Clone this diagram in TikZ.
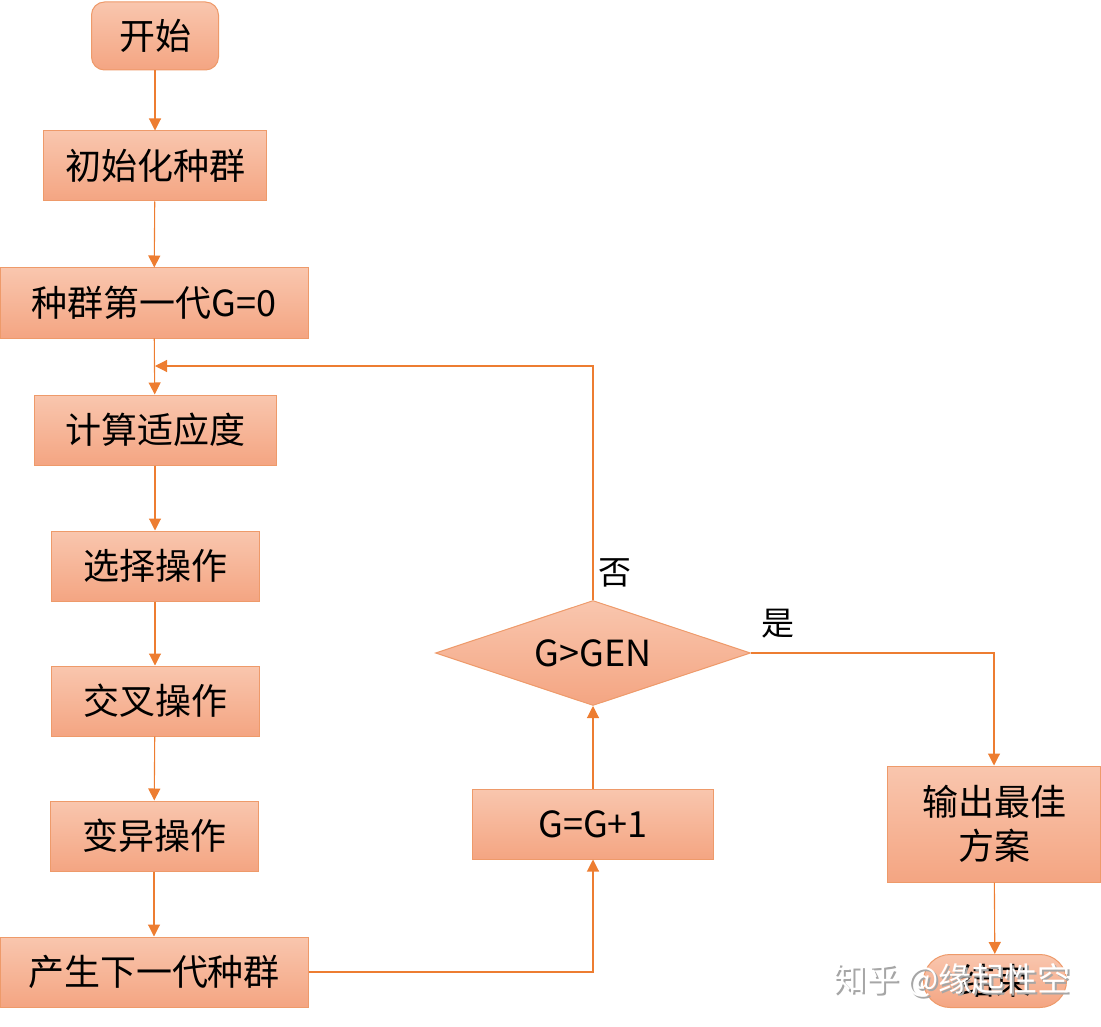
\documentclass[tikz,border=0pt]{standalone}
\usepackage{fontspec}
\setmainfont{Noto Sans CJK SC}
\usetikzlibrary{arrows.meta, positioning, shapes.geometric, shapes.misc}
\definecolor{boxtop}{HTML}{F9C6AE}
\definecolor{boxbot}{HTML}{F4A582}
\definecolor{boxline}{HTML}{EE9A6A}
\definecolor{arrowc}{HTML}{ED7D31}
\tikzset{
  stepbox/.style={draw=boxline, line width=1pt, top color=boxtop, bottom color=boxbot,
    minimum height=70pt, inner sep=0pt, font=\fontsize{36}{44}\selectfont, align=center},
  flow/.style={-{Triangle[length=12pt, width=12pt]}, draw=arrowc, line width=1.1pt},
  lbl/.style={font=\fontsize{33}{38}\selectfont}
}
\begin{document}
\begin{tikzpicture}[x=1pt, y=-1pt]
    \useasboundingbox (0,0) rectangle (1101,1027);
    % main column
    \node[stepbox, rounded corners=13pt, minimum width=127pt, minimum height=68pt] (start) at (155,36) {开始};
    \node[stepbox, minimum width=223pt] (init) at (155,166) {初始化种群};
    \node[stepbox, minimum width=308pt] (first) at (154,303) {种群第一代G=0};
    \node[stepbox, minimum width=242pt] (fit) at (155,430) {计算适应度};
    \node[stepbox, minimum width=208pt] (sel) at (155,566) {选择操作};
    \node[stepbox, minimum width=208pt] (cross) at (155,701) {交叉操作};
    \node[stepbox, minimum width=208pt] (mut) at (154,836) {变异操作};
    \node[stepbox, minimum width=308pt] (next) at (154,972) {产生下一代种群};
    % loop and exit
    \node[stepbox, minimum width=241pt] (inc) at (593,824) {G=G+1};
    \node[stepbox, diamond, aspect=3, minimum width=315pt, minimum height=105pt] (cond) at (593,653) {G>GEN};
    \node[stepbox, minimum width=213pt, minimum height=116pt] (out) at (994,824) {输出最佳\\方案};
    \node[stepbox, rounded rectangle, minimum width=143pt, minimum height=53pt] (stop) at (995,981) {结束};
    \coordinate (join) at (155,366);
    \draw[flow] (start) -- (init);
    \draw[flow] (init) -- (first);
    \draw[flow] (first) -- (fit);
    \draw[flow] (fit) -- (sel);
    \draw[flow] (sel) -- (cross);
    \draw[flow] (cross) -- (mut);
    \draw[flow] (mut) -- (next);
    \draw[flow] (next.east) -| (inc.south);
    \draw[flow] (inc) -- (cond);
    \draw[flow] (cond.north) |- (join);
    \draw[flow] (cond.east) -| (out.north);
    \draw[flow] (out) -- (stop);
    \node[lbl] (no) at (615,573) {否};
    \node[lbl] (yes) at (778,624) {是};
    % watermark
    \node[lbl, text=gray!70] (wms) at (954,982) {知乎 @缘起性空};
    \node[lbl, text=white] (wm) at (952,980) {知乎 @缘起性空};
\end{tikzpicture}
\end{document}
